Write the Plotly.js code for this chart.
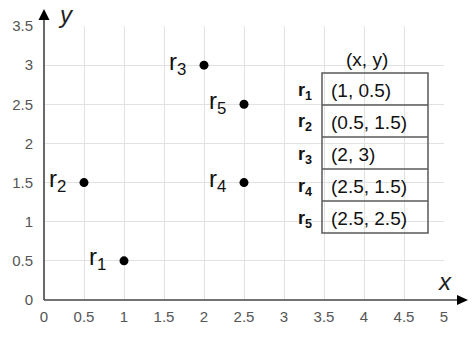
<!DOCTYPE html>
<html>
<head>
<meta charset="utf-8">
<script src="https://cdn.plot.ly/plotly-3.0.1.min.js"></script>
<style>html,body{margin:0;padding:0;background:#fff;}#chart{width:474px;height:353px;}</style>
</head>
<body>
<div id="chart"></div>
<script>
// ---- data ----
const pointNames = ['1', '2', '3', '4', '5'];
const xValues = [1, 0.5, 2, 2.5, 2.5];
const yValues = [0.5, 1.5, 3, 1.5, 2.5];
const tableHeader = '(x, y)';

const FONT = 'Arial, "Liberation Sans", sans-serif';
const labelText = pointNames.map(n => 'r<sub>' + n + '</sub>');
const tableLabels = pointNames.map(n => '<b>r<sub>' + n + '</sub></b>');
const tableValues = xValues.map((x, i) => '(' + x + ', ' + yValues[i] + ')');

const L = 44, R = 30, T = 26, B = 53, W = 474, H = 353;
const PW = W - L - R, PH = H - T - B;
const px = v => (v - L) / PW;        // pixel -> paper x
const py = v => (H - B - v) / PH;    // pixel -> paper y

const scatter = {
  type: 'scatter', mode: 'markers',
  x: xValues, y: yValues,
  marker: {color: '#000', size: 9},
  hoverinfo: 'skip', showlegend: false, cliponaxis: false
};

const annotations = labelText.map((t, i) => ({
  x: xValues[i], y: yValues[i], xref: 'x', yref: 'y',
  text: t, showarrow: false, xanchor: 'right', yanchor: 'middle',
  xshift: -16, yshift: 2,
  font: {family: FONT, size: 24, color: '#111'}
}));
annotations.push({
  xref: 'paper', yref: 'paper', x: px(445), y: py(281),
  text: '<i>x</i>', showarrow: false, xanchor: 'center', yanchor: 'middle',
  font: {family: FONT, size: 24, color: '#222'}
});
annotations.push({
  xref: 'paper', yref: 'paper', x: px(66), y: py(14),
  text: '<i>y</i>', showarrow: false, xanchor: 'center', yanchor: 'middle',
  font: {family: FONT, size: 24, color: '#222'}
});

// ---- table (text from the arrays, layout in pixels) ----
const TBL_L = 322, TBL_R = 428, TBL_T = 73, ROW_H = 32;
const nRows = tableValues.length;
annotations.push({
  xref: 'paper', yref: 'paper', x: px(366.5), y: py(60),
  text: tableHeader, showarrow: false, xanchor: 'center', yanchor: 'middle',
  font: {family: FONT, size: 19, color: '#111'}
});
tableValues.forEach((v, i) => {
  const cy = TBL_T + ROW_H * (i + 0.5);
  annotations.push({
    xref: 'paper', yref: 'paper', x: px(TBL_L + 7), y: py(cy + 1),
    text: v, showarrow: false, xanchor: 'left', yanchor: 'middle',
    font: {family: FONT, size: 19, color: '#111'}
  });
  annotations.push({
    xref: 'paper', yref: 'paper', x: px(305), y: py(cy + 2),
    text: tableLabels[i], showarrow: false, xanchor: 'center', yanchor: 'middle',
    font: {family: FONT, size: 18, color: '#111'}
  });
});

const axisColor = '#444';
const tblLine = {color: '#5a5a5a', width: 1.5};
const shapes = [
  {type: 'rect', xref: 'paper', yref: 'paper', x0: px(287), x1: px(428), y0: py(240), y1: py(37),
   fillcolor: '#fff', line: {width: 0}, layer: 'between'},
  {type: 'rect', xref: 'paper', yref: 'paper', x0: px(TBL_L), x1: px(TBL_R),
   y0: py(TBL_T + ROW_H * nRows), y1: py(TBL_T), line: tblLine, fillcolor: 'rgba(0,0,0,0)'}
];
for (let i = 1; i < nRows; i++) {
  shapes.push({type: 'line', xref: 'paper', yref: 'paper', x0: px(TBL_L), x1: px(TBL_R),
    y0: py(TBL_T + ROW_H * i), y1: py(TBL_T + ROW_H * i), line: tblLine});
}
shapes.push(
  {type: 'line', xref: 'paper', yref: 'paper', x0: 0, x1: px(458), y0: 0, y1: 0,
   line: {color: axisColor, width: 1.6}},
  {type: 'line', xref: 'paper', yref: 'paper', x0: 0, x1: 0, y0: 0, y1: py(19),
   line: {color: axisColor, width: 1.6}},
  {type: 'path', xref: 'paper', yref: 'paper',
   path: 'M' + px(457) + ',' + py(295) + ' L' + px(468) + ',' + py(300) + ' L' + px(457) + ',' + py(305) + ' Z',
   fillcolor: '#000', line: {color: '#000', width: 0}},
  {type: 'path', xref: 'paper', yref: 'paper',
   path: 'M' + px(38.5) + ',' + py(20) + ' L' + px(44) + ',' + py(9) + ' L' + px(49.5) + ',' + py(20) + ' Z',
   fillcolor: '#000', line: {color: '#000', width: 0}}
);

const layout = {
  width: W, height: H,
  margin: {l: L, r: R, t: T, b: B, pad: 0},
  paper_bgcolor: '#fff', plot_bgcolor: '#fff',
  showlegend: false,
  font: {family: FONT},
  xaxis: {
    range: [0, 5], dtick: 0.5, tick0: 0,
    showgrid: true, gridcolor: '#e2e2e2', gridwidth: 1,
    zeroline: false, showline: false, ticks: '',
    tickfont: {family: FONT, size: 15, color: '#555'},
    ticklabelstandoff: 6, fixedrange: true
  },
  yaxis: {
    range: [0, 3.5], dtick: 0.5, tick0: 0,
    showgrid: true, gridcolor: '#e2e2e2', gridwidth: 1,
    zeroline: false, showline: false, ticks: '',
    tickfont: {family: FONT, size: 15, color: '#555'},
    ticklabelstandoff: 10, fixedrange: true
  },
  annotations: annotations,
  shapes: shapes
};

Plotly.newPlot('chart', [scatter], layout, {staticPlot: true, displayModeBar: false});
</script>
</body>
</html>
